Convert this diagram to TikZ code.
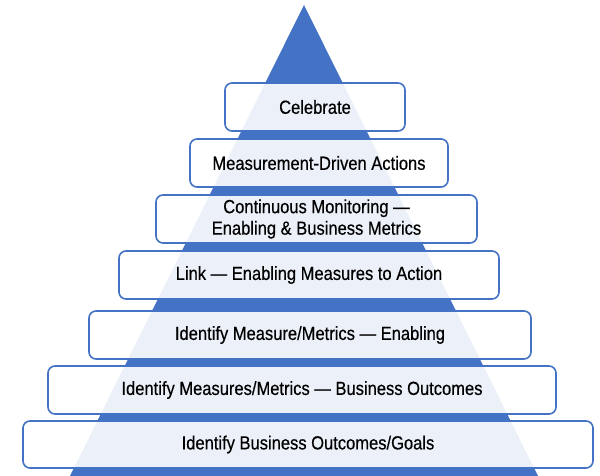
\documentclass[tikz,border=0pt]{standalone}
\usepackage{fontspec}
\setmainfont{Liberation Sans}[FakeStretch=0.87,FakeBold=0.4]
\definecolor{pyrblue}{HTML}{4472C4}
\begin{document}
\begin{tikzpicture}[x=1pt,y=-1pt,
  level/.style={draw=pyrblue, line width=1.6pt, rounded corners=7pt,
    fill=white, fill opacity=0.9, text opacity=1, text=black,
    minimum height=48pt, inner sep=0pt, align=center,
    font=\fontsize{19}{21.5}\selectfont}]
\useasboundingbox (0,0) rectangle (600,476);
\fill[pyrblue] (304,5) -- (538,476) -- (70,476) -- cycle;
\node[level, minimum width=180pt] (l1) at (315,107) {Celebrate};
\node[level, minimum width=258pt] (l2) at (319,163) {Measurement-Driven Actions};
\node[level, minimum width=321pt] (l3) at (316.5,219) {Continuous Monitoring —\\Enabling \& Business Metrics};
\node[level, minimum width=380pt] (l4) at (309,275) {Link — Enabling Measures to Action};
\node[level, minimum width=442pt] (l5) at (310,335) {Identify Measure/Metrics — Enabling};
\node[level, minimum width=508pt] (l6) at (302,390) {Identify Measures/Metrics — Business Outcomes};
\node[level, minimum width=570pt, minimum height=47pt] (l7) at (308,444.5) {Identify Business Outcomes/Goals};
\end{tikzpicture}
\end{document}
